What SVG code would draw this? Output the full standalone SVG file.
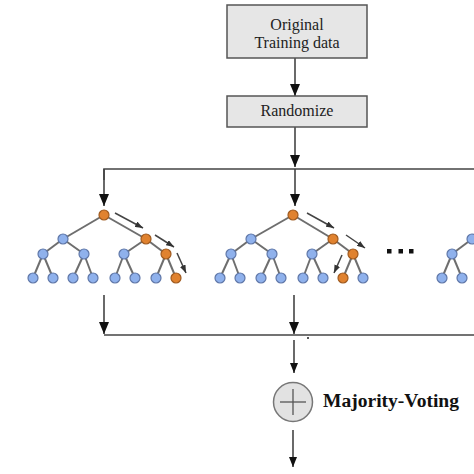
<svg xmlns="http://www.w3.org/2000/svg" width="474" height="474" viewBox="0 0 474 474">
<defs>
<marker id="ah" viewBox="0 0 12 10" markerWidth="12" markerHeight="10" refX="12" refY="5" orient="auto" markerUnits="userSpaceOnUse">
<path d="M0,0 L12,5 L0,10 Z" fill="#111"/>
</marker>
<marker id="ah2" viewBox="0 0 10 8" markerWidth="10" markerHeight="8" refX="10" refY="4" orient="auto" markerUnits="userSpaceOnUse">
<path d="M0,0 L10,4 L0,8 Z" fill="#111"/>
</marker>
<marker id="sa" viewBox="0 0 8 6" markerWidth="8" markerHeight="6" refX="8" refY="3" orient="auto" markerUnits="userSpaceOnUse">
<path d="M0,0 L8,3 L0,6 Z" fill="#333"/>
</marker>
</defs>
<style>
.box{fill:#e6e6e6;stroke:#555;stroke-width:1.5}
.lbl{font-family:"Liberation Serif",serif;font-size:16px;fill:#222;text-anchor:middle}
.con{stroke:#444;stroke-width:1.6;fill:none}
.arr{stroke:#444;stroke-width:1.6;fill:none;marker-end:url(#ah)}
.arr2{stroke:#444;stroke-width:1.6;fill:none;marker-end:url(#ah2)}
.e{stroke:#6e6e6e;stroke-width:2}
.b{fill:#8fb1ec;stroke:#5f77a8;stroke-width:1.2}
.o{fill:#e0822f;stroke:#9f5a1f;stroke-width:1.2}
.p{stroke:#444;stroke-width:1.5;marker-end:url(#sa)}
</style>
<g id="connectors">
<line class="arr" x1="295" y1="58" x2="295" y2="96"/>
<line class="arr" x1="295" y1="127" x2="295" y2="167"/>
<polyline class="con" points="104,180 104,169 474,169"/>
<line class="arr" x1="104" y1="169" x2="104" y2="206"/>
<line class="arr" x1="295" y1="169" x2="295" y2="206"/>
<line class="arr" x1="104" y1="295" x2="104" y2="334"/>
<line class="arr" x1="294" y1="295" x2="294" y2="334"/>
<line class="con" x1="104" y1="335" x2="474" y2="335"/>
<line class="arr2" x1="294" y1="340" x2="294" y2="373"/>
<line class="arr2" x1="293" y1="430" x2="293" y2="467"/>
<rect x="307" y="337" width="2" height="2" fill="#555"/>
</g>
<g id="original">
<rect class="box" x="227" y="5" width="140" height="53"/>
<text class="lbl" x="297" y="30">Original</text>
<text class="lbl" x="297" y="48">Training data</text>
</g>
<g id="randomize">
<rect class="box" x="227" y="96" width="140" height="31"/>
<text class="lbl" x="297" y="116">Randomize</text>
</g>
<g id="tree1">
<g class="e">
<line x1="104" y1="215" x2="63" y2="239"/><line x1="104" y1="215" x2="146" y2="239"/>
<line x1="63" y1="239" x2="43" y2="254"/><line x1="63" y1="239" x2="84" y2="254"/>
<line x1="146" y1="239" x2="124" y2="254"/><line x1="146" y1="239" x2="166" y2="254"/>
<line x1="43" y1="254" x2="33" y2="278"/><line x1="43" y1="254" x2="53" y2="278"/>
<line x1="84" y1="254" x2="73" y2="278"/><line x1="84" y1="254" x2="93" y2="278"/>
<line x1="124" y1="254" x2="115" y2="278"/><line x1="124" y1="254" x2="135" y2="278"/>
<line x1="166" y1="254" x2="156" y2="278"/><line x1="166" y1="254" x2="176" y2="278"/>
</g>
<circle class="o" cx="104" cy="215" r="5"/>
<circle class="b" cx="63" cy="239" r="5"/><circle class="o" cx="146" cy="239" r="5"/>
<circle class="b" cx="43" cy="254" r="5"/><circle class="b" cx="84" cy="254" r="5"/><circle class="b" cx="124" cy="254" r="5"/><circle class="o" cx="166" cy="254" r="5"/>
<circle class="b" cx="33" cy="278" r="5"/><circle class="b" cx="53" cy="278" r="5"/><circle class="b" cx="73" cy="278" r="5"/><circle class="b" cx="93" cy="278" r="5"/>
<circle class="b" cx="115" cy="278" r="5"/><circle class="b" cx="135" cy="278" r="5"/><circle class="b" cx="156" cy="278" r="5"/><circle class="o" cx="176" cy="278" r="5"/>
<line class="p" x1="115" y1="213" x2="143" y2="228"/>
<line class="p" x1="155" y1="235" x2="174" y2="247"/>
<line class="p" x1="177" y1="253" x2="186" y2="273"/>
</g>
<g id="tree2">
<g class="e">
<line x1="293" y1="215" x2="251" y2="239"/><line x1="293" y1="215" x2="333" y2="239"/>
<line x1="251" y1="239" x2="231" y2="254"/><line x1="251" y1="239" x2="272" y2="254"/>
<line x1="333" y1="239" x2="312" y2="254"/><line x1="333" y1="239" x2="353" y2="254"/>
<line x1="231" y1="254" x2="220" y2="278"/><line x1="231" y1="254" x2="240" y2="278"/>
<line x1="272" y1="254" x2="261" y2="278"/><line x1="272" y1="254" x2="281" y2="278"/>
<line x1="312" y1="254" x2="303" y2="278"/><line x1="312" y1="254" x2="323" y2="278"/>
<line x1="353" y1="254" x2="343" y2="278"/><line x1="353" y1="254" x2="363" y2="278"/>
</g>
<circle class="o" cx="293" cy="215" r="5"/>
<circle class="b" cx="251" cy="239" r="5"/><circle class="o" cx="333" cy="239" r="5"/>
<circle class="b" cx="231" cy="254" r="5"/><circle class="b" cx="272" cy="254" r="5"/><circle class="b" cx="312" cy="254" r="5"/><circle class="o" cx="353" cy="254" r="5"/>
<circle class="b" cx="220" cy="278" r="5"/><circle class="b" cx="240" cy="278" r="5"/><circle class="b" cx="261" cy="278" r="5"/><circle class="b" cx="281" cy="278" r="5"/>
<circle class="b" cx="303" cy="278" r="5"/><circle class="b" cx="323" cy="278" r="5"/><circle class="o" cx="343" cy="278" r="5"/><circle class="b" cx="363" cy="278" r="5"/>
<line class="p" x1="307" y1="213" x2="334" y2="228"/>
<line class="p" x1="346" y1="235" x2="365" y2="248"/>
<line class="p" x1="342" y1="255" x2="334" y2="273"/>
</g>
<g id="dots" fill="#111">
<rect x="387" y="249" width="4.5" height="4.5"/>
<rect x="398.5" y="249" width="4.5" height="4.5"/>
<rect x="409" y="249" width="4.5" height="4.5"/>
</g>
<g id="tree3">
<g class="e">
<line x1="472" y1="239" x2="490" y2="228"/>
<line x1="472" y1="239" x2="452" y2="254"/>
<line x1="452" y1="254" x2="442" y2="278"/><line x1="452" y1="254" x2="462" y2="278"/>
<line x1="472" y1="239" x2="490" y2="254"/>
</g>
<circle class="b" cx="472" cy="239" r="5"/>
<circle class="b" cx="452" cy="254" r="5"/>
<circle class="b" cx="442" cy="278" r="5"/><circle class="b" cx="462" cy="278" r="5"/>
</g>
<g id="majority">
<circle cx="293" cy="402" r="19.5" fill="#e2e2e2" stroke="#777" stroke-width="1.5"/>
<line x1="280" y1="402" x2="306" y2="402" stroke="#555" stroke-width="1.3"/>
<line x1="293" y1="389" x2="293" y2="415" stroke="#555" stroke-width="1.3"/>
<text x="323" y="407" font-family="'Liberation Serif',serif" font-weight="bold" font-size="18" fill="#111" textLength="136" lengthAdjust="spacingAndGlyphs">Majority-Voting</text>
</g>
</svg>
